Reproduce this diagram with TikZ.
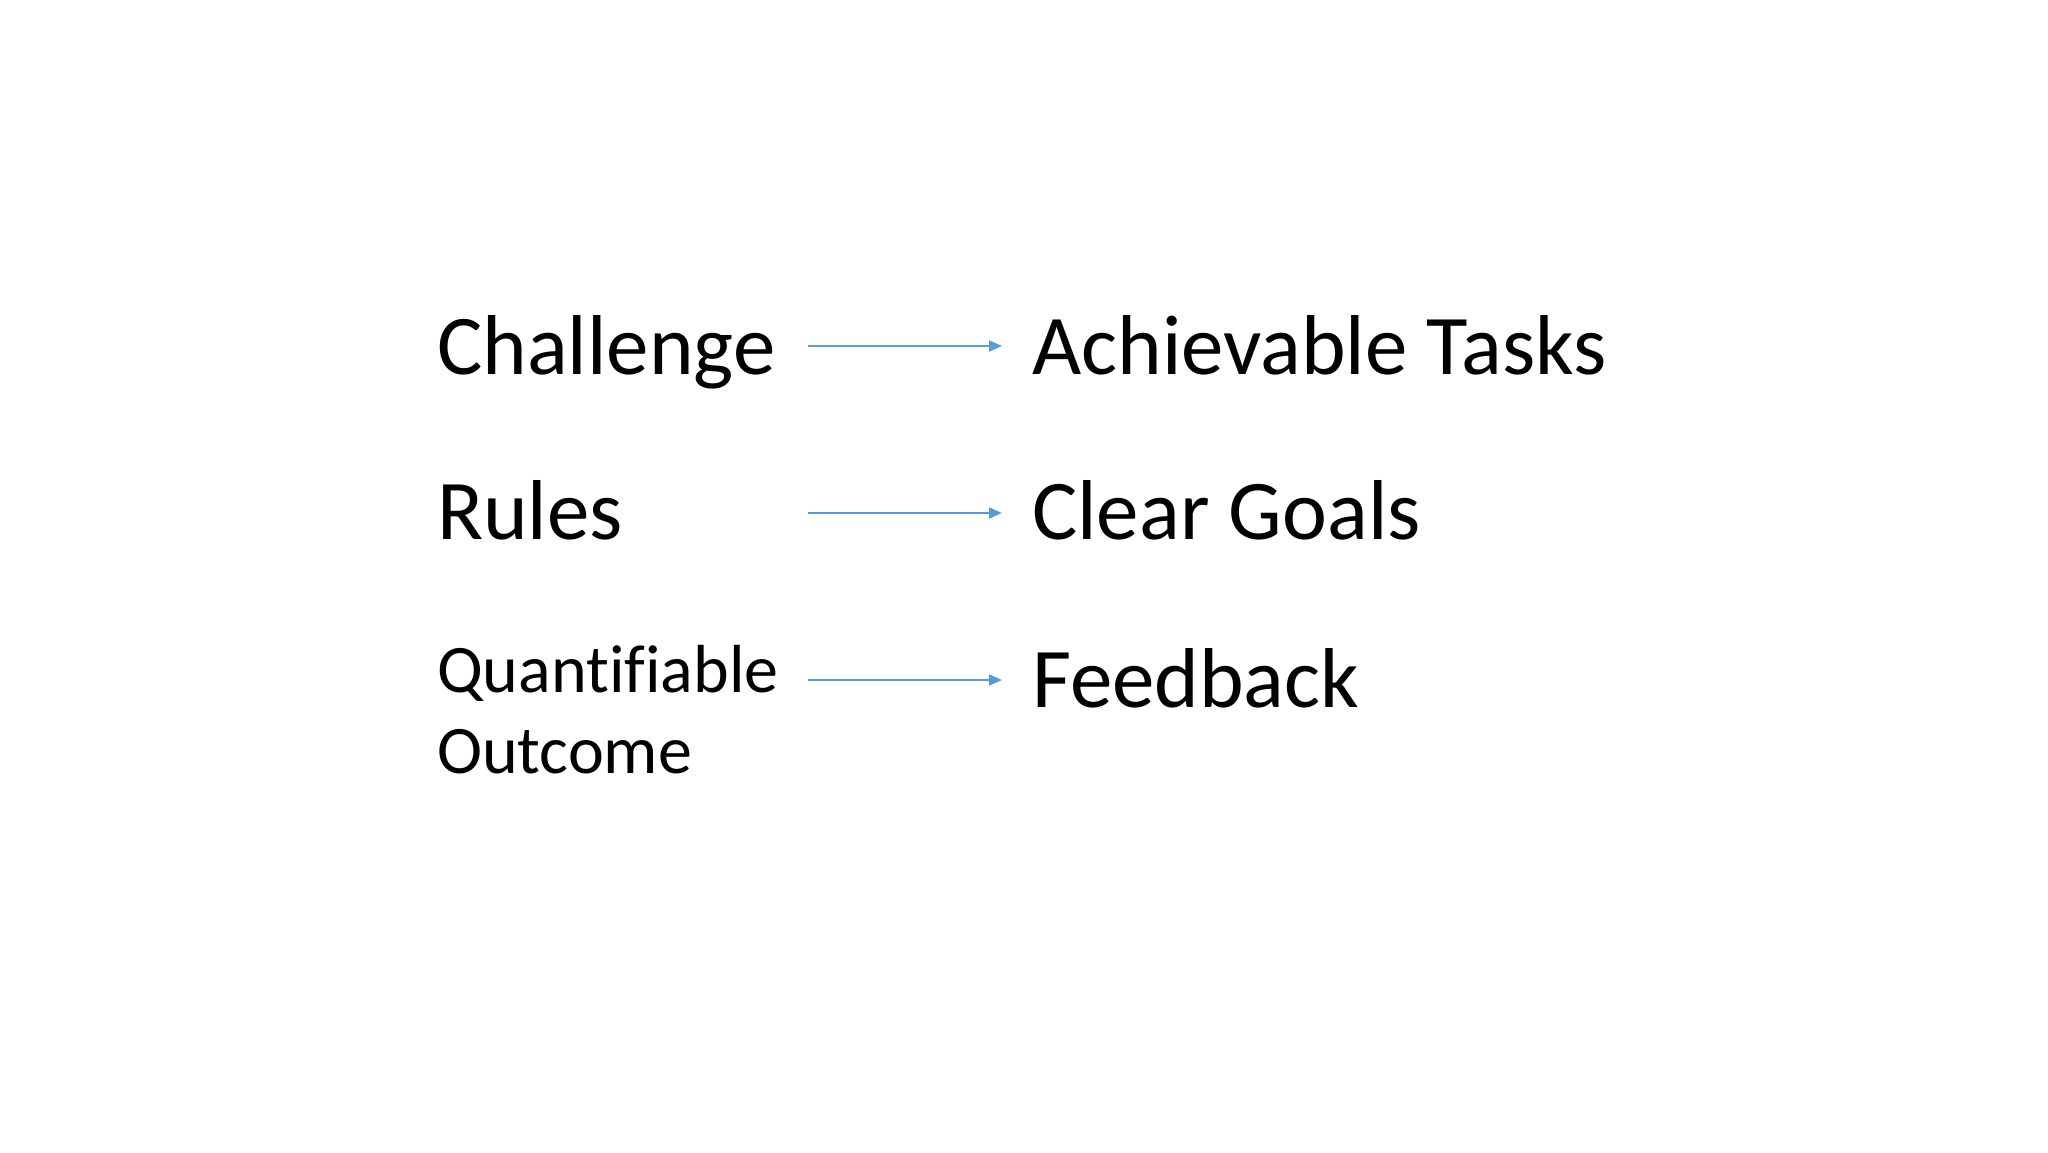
\documentclass[tikz,border=0pt]{standalone}
\usepackage{fontspec}
\setmainfont{Carlito}[Ligatures=NoCommon]
\usetikzlibrary{arrows.meta}
\definecolor{arrowblue}{HTML}{5B9BD5}
\tikzset{
  big/.style={anchor=base west, inner sep=0pt, font=\fontsize{85}{102}\selectfont},
  small/.style={anchor=base west, inner sep=0pt, align=left, font=\fontsize{68}{81}\selectfont},
  conn/.style={draw=arrowblue, line width=2pt, -{Triangle[length=13pt,width=11pt]}}
}
\begin{document}
\begin{tikzpicture}[x=1pt,y=-1pt]
\path[fill=white,use as bounding box] (0,0) rectangle (2048,1152);
\node[big] (challenge) at (437,374) {Challenge};
\node[big] (rules) at (437,539) {Rules};
\node[small] (quant) at (437,773) {Quantifiable\\Outcome};
\node[big] (tasks) at (1032,374) {Achievable Tasks};
\node[big] (goals) at (1032,539) {Clear Goals};
\node[big] (feedback) at (1032,707) {Feedback};
\coordinate (a1s) at (808,346);
\coordinate (a1e) at (1002,346);
\coordinate (a2s) at (808,513);
\coordinate (a2e) at (1002,513);
\coordinate (a3s) at (808,680);
\coordinate (a3e) at (1002,680);
\draw[conn] (a1s) -- (a1e);
\draw[conn] (a2s) -- (a2e);
\draw[conn] (a3s) -- (a3e);
\end{tikzpicture}
\end{document}
